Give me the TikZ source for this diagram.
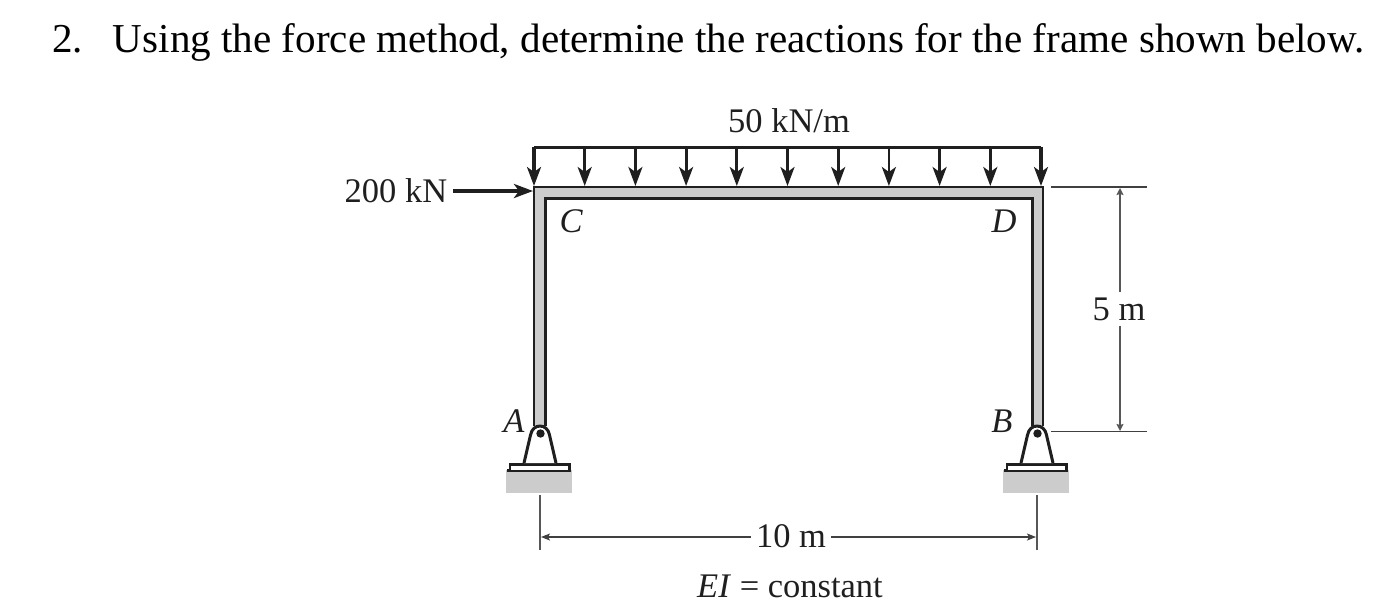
\documentclass[tikz,border=0pt]{standalone}
\usepackage{fontspec}
\setmainfont{Liberation Serif}
\usetikzlibrary{arrows.meta}
\definecolor{steel}{gray}{0.8}
\definecolor{ink}{gray}{0.12}
\tikzset{
  x=1pt,y=-1pt,
  label text/.style={inner sep=0pt,text=ink,font=\fontsize{34.5}{38}\selectfont},
  corner text/.style={inner sep=0pt,text=ink,font=\fontsize{34.5}{38}\selectfont\itshape},
  member/.style={fill=steel,draw=none},
  load arrow/.style={draw=ink,line width=2.8pt,-{Stealth[length=19pt,width=14pt,inset=5pt]}},
  dim line/.style={draw=ink!85!white,line width=1.2pt},
  dim ext/.style={draw=ink!75!white,line width=1.5pt},
}
\newcommand{\supportat}[2]{%
  \begin{scope}[shift={(#1,#2)}]
    \fill[steel] (-34,37) rectangle (32,60);
    \draw[ink,line width=3pt] (-33,37) -- (31,37);
    \draw[ink,line width=2.6pt,fill=white] (-30,37) -- (-30,31.5) -- (29.5,31.5) -- (29.5,37);
    \draw[ink,line width=3pt,fill=white,line join=round] (-16,30) -- (-9.5,2)
       .. controls (-7.5,-10) and (7.5,-10) .. (9.5,2) -- (16,30);
    \fill[ink] (0.5,0.5) circle (4.2pt);
  \end{scope}}
\begin{document}
\begin{tikzpicture}
\useasboundingbox (0,0) rectangle (1386,614);
\node[anchor=base west,inner sep=0pt,text=black,font=\fontsize{41.1}{45}\selectfont] (title) at (52,52)
  {2.\hspace{30pt}Using the force method, determine the reactions for the frame shown below.};

% frame
\fill[member] (534,426) -- (534,187) -- (1043,187) -- (1043,426) -- (1032,426) -- (1032,198) -- (545,198) -- (545,426) -- cycle;
\draw[ink,line width=2pt] (534,426) -- (534,187) -- (1043,187) -- (1043,426);
\draw[ink,line width=3pt] (545,426) -- (545,198) -- (1032,198) -- (1032,426);
\supportat{540}{433}
\supportat{1037}{433}

% distributed load
\draw[ink,line width=3pt] (534,147.5) -- (1041,147.5);
\foreach \i in {0,...,10}{
  \coordinate (top\i) at ({534+50.7*\i},147);
  \coordinate (bot\i) at ({534+50.7*\i},186);
  \draw[load arrow] (top\i) -- (bot\i);
}
\draw[ink,line width=3.6pt] (top0) -- +(0,24);
\draw[ink,line width=3.6pt] (top10) -- +(0,24);
\coordinate (p1) at (453,191);
\coordinate (p2) at (533,191);
\draw[load arrow,line width=3.4pt] (p1) -- (p2);

% labels
\node[label text] (q) at (789,121) {50 kN/m};
\node[label text] (f) at (396,191) {200 kN};
\node[corner text] (C) at (571,221) {C};
\node[corner text] (D) at (1004,221) {D};
\node[corner text] (A) at (514,421) {A};
\node[corner text] (B) at (1002,421) {B};

% 5 m dimension
\coordinate (e1a) at (1051,187); \coordinate (e1b) at (1147,187);
\coordinate (e2a) at (1051,431.5); \coordinate (e2b) at (1147,431.5);
\draw[dim line,line width=1.5pt] (e1a) -- (e1b);
\draw[dim line,line width=1.5pt] (e2a) -- (e2b);
\node[label text,inner ysep=5pt] (h) at (1119,309) {5 m};
\coordinate (h1) at (1120,188); \coordinate (h2) at (1120,431);
\draw[dim ext,{Stealth[length=7pt,width=7pt,inset=1pt]}-] (h1) -- (h.north -| h1);
\draw[dim ext,-{Stealth[length=7pt,width=7pt,inset=1pt]}] (h.south -| h2) -- (h2);

% 10 m dimension
\coordinate (v1a) at (540,495); \coordinate (v1b) at (540,550);
\coordinate (v2a) at (1037,495); \coordinate (v2b) at (1037,550);
\draw[dim ext] (v1a) -- (v1b);
\draw[dim ext] (v2a) -- (v2b);
\node[label text,inner xsep=5pt] (w) at (791,536) {10 m};
\coordinate (w1) at (541,537); \coordinate (w2) at (1036,537);
\draw[dim line,{Stealth[length=9pt,width=7pt,inset=2pt]}-] (w1) -- (w.west |- w1);
\draw[dim line,-{Stealth[length=9pt,width=7pt,inset=2pt]}] (w.east |- w2) -- (w2);
\node[label text] (ei) at (790,586) {\textit{EI} = constant};
\end{tikzpicture}
\end{document}
